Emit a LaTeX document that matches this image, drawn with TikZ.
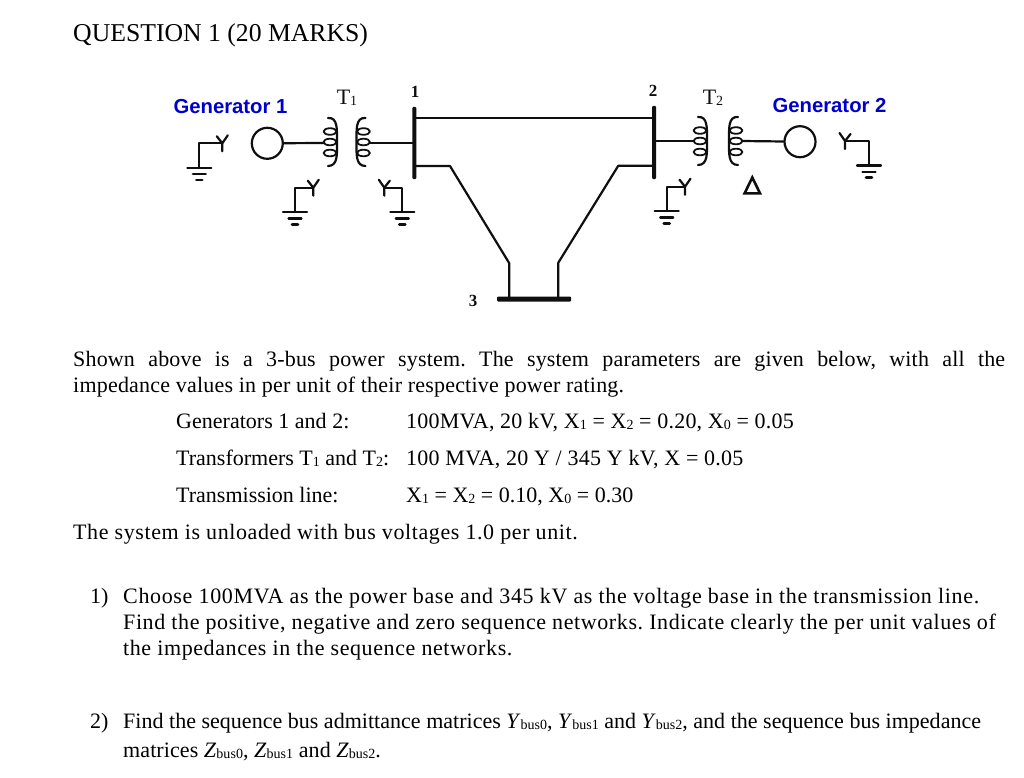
\documentclass[tikz,border=0pt]{standalone}
\usepackage{fontspec}
\setmainfont{Liberation Serif}
\newfontfamily\labelsans{Liberation Sans}
\definecolor{genblue}{RGB}{0,0,205}
\definecolor{ink}{RGB}{15,15,15}
\newcommand{\sbs}[1]{\raisebox{-1.5pt}{\fontsize{14}{15}\selectfont #1}}
\newcommand{\wyeground}[4]{%
  \begin{scope}[shift={(#1,#2)},xscale=#3]
    \draw[wire] (0,24) -- (0,0) -- (#4,0);
    \draw[wire] (#4-5.5,-7) -- (#4,0) -- (#4+5.5,-8) (#4,0) -- (#4,8);
    \draw[wire] (-12,24.5) -- (12,24.5);
    \draw[wire] (-6.5,30.7) -- (6.5,30.7);
    \draw[wire,line width=2.6pt] (-3,36.6) -- (3,36.6);
  \end{scope}}
\newcommand{\coil}[3]{%
  \begin{scope}[shift={(#1,#2)},xscale=#3]
    \draw[wire] (-2,-24) .. controls (8,-25) and (7,-12) .. (7,0) .. controls (7,12) and (8,24) .. (-2,24);
    \foreach \yy in {-10.5,0,11} \draw[wire,line width=1.8pt] (0,\yy) ellipse (6.5 and 3.3);
  \end{scope}}
\tikzset{
  wire/.style={line width=2.2pt,draw=ink,line cap=round,line join=round},
  busbar/.style={draw=none,fill=ink,rounded corners=1pt,inner sep=0pt},
  gen/.style={circle,draw=ink,line width=2.2pt,minimum size=31pt,inner sep=0pt},
  txt/.style={inner sep=0pt,anchor=base west,font=\fontsize{22}{24}\selectfont,text=black},
  spaced/.style={txt,font=\fontsize{22}{24}\selectfont\addfontfeature{LetterSpace=#1}},
  genlabel/.style={inner sep=0pt,font=\labelsans\bfseries\fontsize{20.3}{22}\selectfont,text=genblue},
  tlabel/.style={inner sep=0pt,font=\fontsize{22}{24}\selectfont,text=ink},
  busnum/.style={inner sep=0pt,font=\bfseries\fontsize{17}{18}\selectfont,text=ink}
}
\begin{document}
\begin{tikzpicture}[x=1pt,y=-1pt]
\frenchspacing
\useasboundingbox (0,0) rectangle (1024,778);
% buses
\node[busbar,minimum width=4pt,minimum height=72pt] (b1) at (414.3,143) {};
\node[busbar,minimum width=4pt,minimum height=73pt] (b2) at (654,142.5) {};
\node[busbar,minimum width=74pt,minimum height=5pt] (b3) at (534,299) {};
% generators
\node[gen] (g1) at (267.3,143.3) {};
\node[gen] (g2) at (800,141.7) {};
% coils
\coil{330}{142}{1}
\coil{363.5}{142}{-1}
\coil{700}{141}{1}
\coil{736}{141}{-1}
\coordinate (c1l) at (324,143);
\coordinate (c1r) at (370,143);
\coordinate (c2l) at (694,141);
\coordinate (c2r) at (742,141);
\draw[wire] (g1) -- (c1l);
\draw[wire] (c1r) -- (c1r -| b1);
\draw[wire] (c2l) -- (c2l -| b2);
\draw[wire] (c2r) -- (g2);
% lines
\coordinate (u1) at (414.3,118);
\coordinate (u2) at (654,118);
\draw[wire] (u1) -- (u2);
\coordinate (l1) at (414.3,166);
\coordinate (k1) at (450,166);
\coordinate (m1) at (509.3,263.3);
\coordinate (e1) at (509.3,298);
\coordinate (l2) at (654,165.7);
\coordinate (k2) at (618.3,165.7);
\coordinate (m2) at (558.3,262.7);
\coordinate (e2) at (558.3,298);
\draw[wire] (l1) -- (k1) -- (m1) -- (e1);
\draw[wire] (l2) -- (k2) -- (m2) -- (e2);
% grounds
\wyeground{199.3}{143.3}{1}{23}
\wyeground{295}{187.7}{1}{18.3}
\wyeground{402.3}{187.7}{-1}{18}
\wyeground{666.7}{186.7}{1}{18.3}
\wyeground{869}{141}{-1}{24}
% delta
\draw[wire,line width=2.6pt,line join=miter] (744.6,193.3) -- (760,193.3) -- (752.3,177.5) -- cycle;
% labels
\node[genlabel] (lg1) at (230.5,107) {Generator 1};
\node[genlabel] (lg2) at (829.5,106) {Generator 2};
\node[tlabel] (lt1) at (347,98) {T\sbs{1}};
\node[tlabel] (lt2) at (713,98) {T\sbs{2}};
\node[busnum] (n1) at (415,92) {1};
\node[busnum] (n2) at (653,91) {2};
\node[busnum] (n3) at (473,301) {3};
% text
\node[txt,font=\fontsize{25.7}{28}\selectfont] (q) at (73,42) {QUESTION 1 (20 MARKS)};
\node[spaced=0.8] (p1) at (73,366) {\makebox[932pt][s]{Shown above is a 3-bus power system. The system parameters are given below, with all the}};
\node[spaced=0.95] (p2) at (73,392) {impedance values in per unit of their respective power rating.};
\node[spaced=0.1] (a1) at (176,428) {Generators 1 and 2:};
\node[spaced=1.0] (a2) at (406,428) {100MVA, 20 kV, X\sbs{1} = X\sbs{2} = 0.20, X\sbs{0} = 0.05};
\node[txt] (b1t) at (176,465) {Transformers T\sbs{1} and T\sbs{2}:};
\node[spaced=1.2] (b2t) at (406,465) {100 MVA, 20 Y / 345 Y kV, X = 0.05};
\node[txt] (c1t) at (176,502) {Transmission line:};
\node[spaced=0.1] (c2t) at (406,502) {X\sbs{1} = X\sbs{2} = 0.10, X\sbs{0} = 0.30};
\node[spaced=2.7] (p3) at (73,539) {The system is unloaded with bus voltages 1.0 per unit.};
\node[txt] (i1) at (90,603) {1)};
\node[spaced=3.0] (i1a) at (123,603) {Choose 100MVA as the power base and 345 kV as the voltage base in the transmission line.};
\node[spaced=2.72] (i1b) at (123,629) {Find the positive, negative and zero sequence networks. Indicate clearly the per unit values of};
\node[spaced=2.7] (i1c) at (123,655) {the impedances in the sequence networks.};
\node[txt] (i2) at (90,728) {2)};
\node[spaced=0.1] (i2a) at (123,728) {Find the sequence bus admittance matrices \textit{Y}\sbs{bus0}, \textit{Y}\sbs{bus1} and \textit{Y}\sbs{bus2}, and the sequence bus impedance};
\node[spaced=0.4] (i2b) at (123,757) {matrices \textit{Z}\sbs{bus0}, \textit{Z}\sbs{bus1} and \textit{Z}\sbs{bus2}.};
\end{tikzpicture}
\end{document}
